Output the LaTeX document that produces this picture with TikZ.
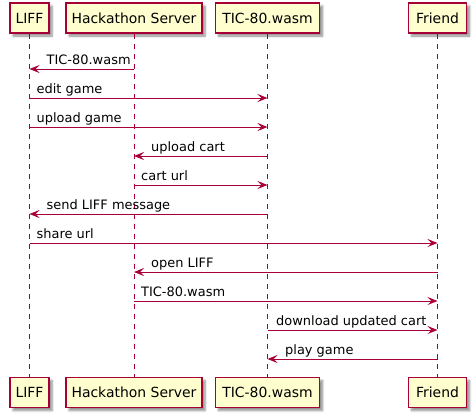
\documentclass[tikz,border=0pt]{standalone}
\usepackage{fontspec}
\setmainfont{DejaVu Sans}
\usetikzlibrary{arrows.meta,shadows.blur}
\definecolor{pbg}{HTML}{FEFECE}
\definecolor{pline}{HTML}{A80036}
\begin{document}
\begin{tikzpicture}[x=1bp,y=-1bp,
 part/.style={draw=pline, fill=pbg, line width=1.5bp, minimum height=30bp, inner sep=0pt,
   font=\fontsize{14}{16}\selectfont,
   blur shadow={shadow xshift=3bp, shadow yshift=-3bp, shadow opacity=45, shadow blur steps=6}},
 life/.style={pline, dash pattern=on 5bp off 5bp, line width=1bp},
 msg/.style={pline, line width=1bp, -{Stealth[length=10bp,width=8bp,inset=4bp]}},
 lbl/.style={font=\fontsize{13}{15}\selectfont, anchor=base west, inner sep=0pt}]
\useasboundingbox (0,0) rectangle (475,418);
% participants top
\node[part, minimum width=39bp]  (liffT) at (29.5,18) {LIFF};
\node[part, minimum width=136bp] (hackT) at (134,18) {Hackathon Server};
\node[part, minimum width=104bp] (ticT)  at (267.5,18) {TIC-80.wasm};
\node[part, minimum width=58bp]  (frT)   at (437.5,18) {Friend};
% participants bottom
\node[part, minimum width=39bp]  (liffB) at (29.5,392.5) {LIFF};
\node[part, minimum width=136bp] (hackB) at (134,392.5) {Hackathon Server};
\node[part, minimum width=104bp] (ticB)  at (267.5,392.5) {TIC-80.wasm};
\node[part, minimum width=58bp]  (frB)   at (437.5,392.5) {Friend};
% lifelines
\begin{scope}[on background layer/.try]
\end{scope}
\draw[life] (liffT.south) -- (liffB.north);
\draw[life] (hackT.south) -- (hackB.north);
\draw[life] (ticT.south) -- (ticB.north);
\draw[life] (frT.south) -- (frB.north);
% messages
\draw[msg] (hackT.south |- 0,69) -- (liffT.south |- 0,69);
\node[lbl] (l1) at (46.5,64) {TIC-80.wasm};
\draw[msg] (liffT.south |- 0,98) -- (ticT.south |- 0,98);
\node[lbl] (l2) at (36.5,93) {edit game};
\draw[msg] (liffT.south |- 0,127) -- (ticT.south |- 0,127);
\node[lbl] (l3) at (36.5,122) {upload game};
\draw[msg] (ticT.south |- 0,156) -- (hackT.south |- 0,156);
\node[lbl] (l4) at (151,151) {upload cart};
\draw[msg] (hackT.south |- 0,185) -- (ticT.south |- 0,185);
\node[lbl] (l5) at (141,180) {cart url};
\draw[msg] (ticT.south |- 0,214) -- (liffT.south |- 0,214);
\node[lbl] (l6) at (46.5,209) {send LIFF message};
\draw[msg] (liffT.south |- 0,243) -- (frT.south |- 0,243);
\node[lbl] (l7) at (36.5,238) {share url};
\draw[msg] (frT.south |- 0,272) -- (hackT.south |- 0,272);
\node[lbl] (l8) at (151,267) {open LIFF};
\draw[msg] (hackT.south |- 0,301) -- (frT.south |- 0,301);
\node[lbl] (l9) at (141,296) {TIC-80.wasm};
\draw[msg] (ticT.south |- 0,330) -- (frT.south |- 0,330);
\node[lbl] (l10) at (276,325) {download updated cart};
\draw[msg] (frT.south |- 0,359) -- (ticT.south |- 0,359);
\node[lbl] (l11) at (285,354) {play game};
\end{tikzpicture}
\end{document}
